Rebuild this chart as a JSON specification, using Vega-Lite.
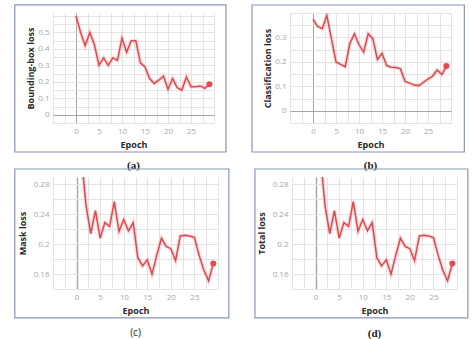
{
  "$schema": "https://vega.github.io/schema/vega-lite/v6.json",
  "padding": {"left": 14, "top": 4, "right": 0, "bottom": 0},
  "background": "white",
  "data": {"values": [
    {"epoch": 0, "bbox": 0.6, "cls": 0.375, "mask": 0.42, "total": 0.42},
    {"epoch": 1, "bbox": 0.5, "cls": 0.345, "mask": 0.319, "total": 0.319},
    {"epoch": 2, "bbox": 0.42, "cls": 0.336, "mask": 0.252, "total": 0.252},
    {"epoch": 3, "bbox": 0.5, "cls": 0.39, "mask": 0.214, "total": 0.214},
    {"epoch": 4, "bbox": 0.425, "cls": 0.295, "mask": 0.245, "total": 0.245},
    {"epoch": 5, "bbox": 0.3, "cls": 0.2, "mask": 0.208, "total": 0.208},
    {"epoch": 6, "bbox": 0.345, "cls": 0.19, "mask": 0.229, "total": 0.229},
    {"epoch": 7, "bbox": 0.3, "cls": 0.18, "mask": 0.224, "total": 0.224},
    {"epoch": 8, "bbox": 0.345, "cls": 0.275, "mask": 0.257, "total": 0.257},
    {"epoch": 9, "bbox": 0.33, "cls": 0.315, "mask": 0.217, "total": 0.217},
    {"epoch": 10, "bbox": 0.465, "cls": 0.27, "mask": 0.233, "total": 0.233},
    {"epoch": 11, "bbox": 0.38, "cls": 0.24, "mask": 0.218, "total": 0.218},
    {"epoch": 12, "bbox": 0.45, "cls": 0.315, "mask": 0.229, "total": 0.229},
    {"epoch": 13, "bbox": 0.45, "cls": 0.295, "mask": 0.182, "total": 0.182},
    {"epoch": 14, "bbox": 0.315, "cls": 0.21, "mask": 0.171, "total": 0.171},
    {"epoch": 15, "bbox": 0.29, "cls": 0.235, "mask": 0.179, "total": 0.179},
    {"epoch": 16, "bbox": 0.22, "cls": 0.185, "mask": 0.16, "total": 0.16},
    {"epoch": 17, "bbox": 0.19, "cls": 0.178, "mask": 0.185, "total": 0.185},
    {"epoch": 18, "bbox": 0.21, "cls": 0.177, "mask": 0.208, "total": 0.208},
    {"epoch": 19, "bbox": 0.235, "cls": 0.172, "mask": 0.197, "total": 0.197},
    {"epoch": 20, "bbox": 0.155, "cls": 0.12, "mask": 0.194, "total": 0.194},
    {"epoch": 21, "bbox": 0.22, "cls": 0.113, "mask": 0.178, "total": 0.178},
    {"epoch": 22, "bbox": 0.165, "cls": 0.105, "mask": 0.211, "total": 0.211},
    {"epoch": 23, "bbox": 0.15, "cls": 0.103, "mask": 0.212, "total": 0.212},
    {"epoch": 24, "bbox": 0.23, "cls": 0.116, "mask": 0.211, "total": 0.211},
    {"epoch": 25, "bbox": 0.17, "cls": 0.13, "mask": 0.209, "total": 0.209},
    {"epoch": 26, "bbox": 0.17, "cls": 0.142, "mask": 0.185, "total": 0.185},
    {"epoch": 27, "bbox": 0.175, "cls": 0.167, "mask": 0.165, "total": 0.165},
    {"epoch": 28, "bbox": 0.16, "cls": 0.148, "mask": 0.151, "total": 0.151},
    {"epoch": 29, "bbox": 0.185, "cls": 0.183, "mask": 0.174, "total": 0.174}
  ]},
  "config": {
    "view": {"stroke": null},
    "font": "Open Sans",
    "axis": {"domain": false, "ticks": false, "gridColor": "#e3e3e3", "labelColor": "#a8a8a8", "labelFontSize": 8, "labelFont": "Open Sans", "titleFont": "Open Sans", "titleFontSize": 9, "titleFontWeight": "bold", "titleColor": "#2a2a2a", "labelPadding": 4, "labelOverlap": false, "labelFlush": false},
    "axisX": {"titlePadding": 5},
    "axisY": {"titlePadding": 2},
    "title": {"orient": "bottom", "offset": 7, "font": "Liberation Serif", "fontSize": 11, "fontWeight": "bold", "color": "#222222"}
  },
  "spacing": -3,
  "vconcat": [
    {
      "spacing": 24,
      "hconcat": [
        {
          "width": 161, "height": 110,
          "title": {"text": "(a)"},
          "layer": [
            {
              "encoding": {
                "x": {"field": "epoch", "type": "quantitative", "title": "Epoch", "scale": {"domain": [-5, 30], "nice": false, "zero": false},
                      "axis": {"values": [-5, -2.5, 0, 2.5, 5, 7.5, 10, 12.5, 15, 17.5, 20, 22.5, 25, 27.5, 30], "labelExpr": "datum.value >= 0 && datum.value <= 25 && datum.value % 5 == 0 ? format(datum.value, 'd') : ''", "gridColor": {"condition": {"test": "datum.value == 0", "value": "#a6a6a6"}, "value": "#e3e3e3"}}},
                "y": {"field": "bbox", "type": "quantitative", "title": "Bounding-box loss", "scale": {"domain": [-0.05, 0.618], "nice": false, "zero": false},
                      "axis": {"values": [-0.05, 0, 0.05, 0.1, 0.15, 0.2, 0.25, 0.3, 0.35, 0.4, 0.45, 0.5, 0.55, 0.6], "labelExpr": "datum.value >= 0 && datum.value <= 0.5 && abs(round(datum.value * 10) - datum.value * 10) < 0.001 ? format(datum.value, '~g') : ''", "gridColor": {"condition": {"test": "datum.value == 0", "value": "#a6a6a6"}, "value": "#e3e3e3"}}}
              },
              "layer": [
                {"mark": {"type": "line", "color": "#f3a3a6", "strokeWidth": 4, "opacity": 0.35, "clip": true}},
                {"mark": {"type": "line", "color": "#e0474c", "strokeWidth": 1.5, "clip": true}},
                {"transform": [{"filter": "datum.epoch == 29"}], "mark": {"type": "point", "filled": true, "color": "#e8474c", "size": 36, "opacity": 1}}
              ]
            },
            {"data": {"values": [{}]}, "mark": {"type": "rect", "fill": null, "stroke": "#8696b8", "strokeWidth": 1.2},
             "encoding": {
               "x": {"datum": -13.3, "type": "quantitative", "title": "Epoch", "scale": {"domain": [-5, 30], "nice": false, "zero": false},
                  "axis": {"values": [-5, -2.5, 0, 2.5, 5, 7.5, 10, 12.5, 15, 17.5, 20, 22.5, 25, 27.5, 30], "labelExpr": "datum.value >= 0 && datum.value <= 25 && datum.value % 5 == 0 ? format(datum.value, 'd') : ''", "gridColor": {"condition": {"test": "datum.value == 0", "value": "#a6a6a6"}, "value": "#e3e3e3"}}},
               "x2": {"datum": 32.6},
               "y": {"datum": 0.667, "type": "quantitative", "title": "Bounding-box loss", "scale": {"domain": [-0.05, 0.618], "nice": false, "zero": false},
                  "axis": {"values": [-0.05, 0, 0.05, 0.1, 0.15, 0.2, 0.25, 0.3, 0.35, 0.4, 0.45, 0.5, 0.55, 0.6], "labelExpr": "datum.value >= 0 && datum.value <= 0.5 && abs(round(datum.value * 10) - datum.value * 10) < 0.001 ? format(datum.value, '~g') : ''", "gridColor": {"condition": {"test": "datum.value == 0", "value": "#a6a6a6"}, "value": "#e3e3e3"}}},
               "y2": {"datum": -0.226}}}
          ]
        },
        {
          "width": 161, "height": 110,
          "title": {"text": "(b)"},
          "layer": [
            {
              "encoding": {
                "x": {"field": "epoch", "type": "quantitative", "title": "Epoch", "scale": {"domain": [-5, 30], "nice": false, "zero": false},
                      "axis": {"values": [-5, -2.5, 0, 2.5, 5, 7.5, 10, 12.5, 15, 17.5, 20, 22.5, 25, 27.5, 30], "labelExpr": "datum.value >= 0 && datum.value <= 25 && datum.value % 5 == 0 ? format(datum.value, 'd') : ''", "gridColor": {"condition": {"test": "datum.value == 0", "value": "#a6a6a6"}, "value": "#e3e3e3"}}},
                "y": {"field": "cls", "type": "quantitative", "title": "Classification loss", "scale": {"domain": [-0.05, 0.4], "nice": false, "zero": false},
                      "axis": {"values": [-0.05, 0, 0.05, 0.1, 0.15, 0.2, 0.25, 0.3, 0.35, 0.4], "labelExpr": "datum.value >= 0 && datum.value <= 0.3 && abs(round(datum.value * 10) - datum.value * 10) < 0.001 ? format(datum.value, '~g') : ''", "gridColor": {"condition": {"test": "datum.value == 0", "value": "#a6a6a6"}, "value": "#e3e3e3"}}}
              },
              "layer": [
                {"mark": {"type": "line", "color": "#f3a3a6", "strokeWidth": 4, "opacity": 0.35, "clip": true}},
                {"mark": {"type": "line", "color": "#e0474c", "strokeWidth": 1.5, "clip": true}},
                {"transform": [{"filter": "datum.epoch == 29"}], "mark": {"type": "point", "filled": true, "color": "#e8474c", "size": 36, "opacity": 1}}
              ]
            },
            {"data": {"values": [{}]}, "mark": {"type": "rect", "fill": null, "stroke": "#8696b8", "strokeWidth": 1.2},
             "encoding": {
               "x": {"datum": -13.26, "type": "quantitative", "title": "Epoch", "scale": {"domain": [-5, 30], "nice": false, "zero": false},
                  "axis": {"values": [-5, -2.5, 0, 2.5, 5, 7.5, 10, 12.5, 15, 17.5, 20, 22.5, 25, 27.5, 30], "labelExpr": "datum.value >= 0 && datum.value <= 25 && datum.value % 5 == 0 ? format(datum.value, 'd') : ''", "gridColor": {"condition": {"test": "datum.value == 0", "value": "#a6a6a6"}, "value": "#e3e3e3"}}},
               "x2": {"datum": 32.9},
               "y": {"datum": 0.4327, "type": "quantitative", "title": "Classification loss", "scale": {"domain": [-0.05, 0.4], "nice": false, "zero": false},
                  "axis": {"values": [-0.05, 0, 0.05, 0.1, 0.15, 0.2, 0.25, 0.3, 0.35, 0.4], "labelExpr": "datum.value >= 0 && datum.value <= 0.3 && abs(round(datum.value * 10) - datum.value * 10) < 0.001 ? format(datum.value, '~g') : ''", "gridColor": {"condition": {"test": "datum.value == 0", "value": "#a6a6a6"}, "value": "#e3e3e3"}}},
               "y2": {"datum": -0.1687}}}
          ]
        }
      ]
    },
    {
      "spacing": 24,
      "hconcat": [
        {
          "width": 165, "height": 112,
          "title": {"text": "(c)", "font": "Open Sans", "fontWeight": "normal", "fontSize": 10, "offset": 9},
          "layer": [
            {
              "encoding": {
                "x": {"field": "epoch", "type": "quantitative", "title": "Epoch", "scale": {"domain": [-5, 30], "nice": false, "zero": false},
                      "axis": {"values": [-5, -2.5, 0, 2.5, 5, 7.5, 10, 12.5, 15, 17.5, 20, 22.5, 25, 27.5, 30], "labelExpr": "datum.value >= 0 && datum.value <= 25 && datum.value % 5 == 0 ? format(datum.value, 'd') : ''", "gridColor": {"condition": {"test": "datum.value == 0", "value": "#a0a8a8"}, "value": "#e3e3e3"}, "gridWidth": {"condition": {"test": "datum.value == 0", "value": 1.4}, "value": 1}}},
                "y": {"field": "mask", "type": "quantitative", "title": "Mask loss", "scale": {"domain": [0.14, 0.29], "nice": false, "zero": false},
                      "axis": {"titlePadding": 6, "values": [0.14, 0.16, 0.18, 0.2, 0.22, 0.24, 0.26, 0.28], "labelExpr": "abs(round(datum.value * 25) - datum.value * 25) < 0.001 ? format(datum.value, '~g') : ''"}}
              },
              "layer": [
                {"mark": {"type": "line", "color": "#f3a3a6", "strokeWidth": 4, "opacity": 0.35, "clip": true}},
                {"mark": {"type": "line", "color": "#e0474c", "strokeWidth": 1.5, "clip": true}},
                {"transform": [{"filter": "datum.epoch == 29"}], "mark": {"type": "point", "filled": true, "color": "#e8474c", "size": 36, "opacity": 1}}
              ]
            },
            {"data": {"values": [{}]}, "mark": {"type": "rect", "fill": null, "stroke": "#8696b8", "strokeWidth": 1.2},
             "encoding": {
               "x": {"datum": -13.1, "type": "quantitative", "title": "Epoch", "scale": {"domain": [-5, 30], "nice": false, "zero": false},
                  "axis": {"values": [-5, -2.5, 0, 2.5, 5, 7.5, 10, 12.5, 15, 17.5, 20, 22.5, 25, 27.5, 30], "labelExpr": "datum.value >= 0 && datum.value <= 25 && datum.value % 5 == 0 ? format(datum.value, 'd') : ''", "gridColor": {"condition": {"test": "datum.value == 0", "value": "#a0a8a8"}, "value": "#e3e3e3"}, "gridWidth": {"condition": {"test": "datum.value == 0", "value": 1.4}, "value": 1}}},
               "x2": {"datum": 32.3},
               "y": {"datum": 0.3007, "type": "quantitative", "title": "Mask loss", "scale": {"domain": [0.14, 0.29], "nice": false, "zero": false},
                  "axis": {"titlePadding": 6, "values": [0.14, 0.16, 0.18, 0.2, 0.22, 0.24, 0.26, 0.28], "labelExpr": "abs(round(datum.value * 25) - datum.value * 25) < 0.001 ? format(datum.value, '~g') : ''"}},
               "y2": {"datum": 0.1012}}}
          ]
        },
        {
          "width": 165, "height": 112,
          "title": {"text": "(d)", "offset": 9},
          "layer": [
            {
              "encoding": {
                "x": {"field": "epoch", "type": "quantitative", "title": "Epoch", "scale": {"domain": [-5, 30], "nice": false, "zero": false},
                      "axis": {"values": [-5, -2.5, 0, 2.5, 5, 7.5, 10, 12.5, 15, 17.5, 20, 22.5, 25, 27.5, 30], "labelExpr": "datum.value >= 0 && datum.value <= 25 && datum.value % 5 == 0 ? format(datum.value, 'd') : ''", "gridColor": {"condition": {"test": "datum.value == 0", "value": "#a0a8a8"}, "value": "#e3e3e3"}, "gridWidth": {"condition": {"test": "datum.value == 0", "value": 1.4}, "value": 1}}},
                "y": {"field": "total", "type": "quantitative", "title": "Total loss", "scale": {"domain": [0.14, 0.29], "nice": false, "zero": false},
                      "axis": {"titlePadding": 6, "values": [0.14, 0.16, 0.18, 0.2, 0.22, 0.24, 0.26, 0.28], "labelExpr": "abs(round(datum.value * 25) - datum.value * 25) < 0.001 ? format(datum.value, '~g') : ''"}}
              },
              "layer": [
                {"mark": {"type": "line", "color": "#f3a3a6", "strokeWidth": 4, "opacity": 0.35, "clip": true}},
                {"mark": {"type": "line", "color": "#e0474c", "strokeWidth": 1.5, "clip": true}},
                {"transform": [{"filter": "datum.epoch == 29"}], "mark": {"type": "point", "filled": true, "color": "#e8474c", "size": 36, "opacity": 1}}
              ]
            },
            {"data": {"values": [{}]}, "mark": {"type": "rect", "fill": null, "stroke": "#8696b8", "strokeWidth": 1.2},
             "encoding": {
               "x": {"datum": -12.86, "type": "quantitative", "title": "Epoch", "scale": {"domain": [-5, 30], "nice": false, "zero": false},
                  "axis": {"values": [-5, -2.5, 0, 2.5, 5, 7.5, 10, 12.5, 15, 17.5, 20, 22.5, 25, 27.5, 30], "labelExpr": "datum.value >= 0 && datum.value <= 25 && datum.value % 5 == 0 ? format(datum.value, 'd') : ''", "gridColor": {"condition": {"test": "datum.value == 0", "value": "#a0a8a8"}, "value": "#e3e3e3"}, "gridWidth": {"condition": {"test": "datum.value == 0", "value": 1.4}, "value": 1}}},
               "x2": {"datum": 32.3},
               "y": {"datum": 0.3007, "type": "quantitative", "title": "Total loss", "scale": {"domain": [0.14, 0.29], "nice": false, "zero": false},
                  "axis": {"titlePadding": 6, "values": [0.14, 0.16, 0.18, 0.2, 0.22, 0.24, 0.26, 0.28], "labelExpr": "abs(round(datum.value * 25) - datum.value * 25) < 0.001 ? format(datum.value, '~g') : ''"}},
               "y2": {"datum": 0.1012}}}
          ]
        }
      ]
    }
  ]
}
